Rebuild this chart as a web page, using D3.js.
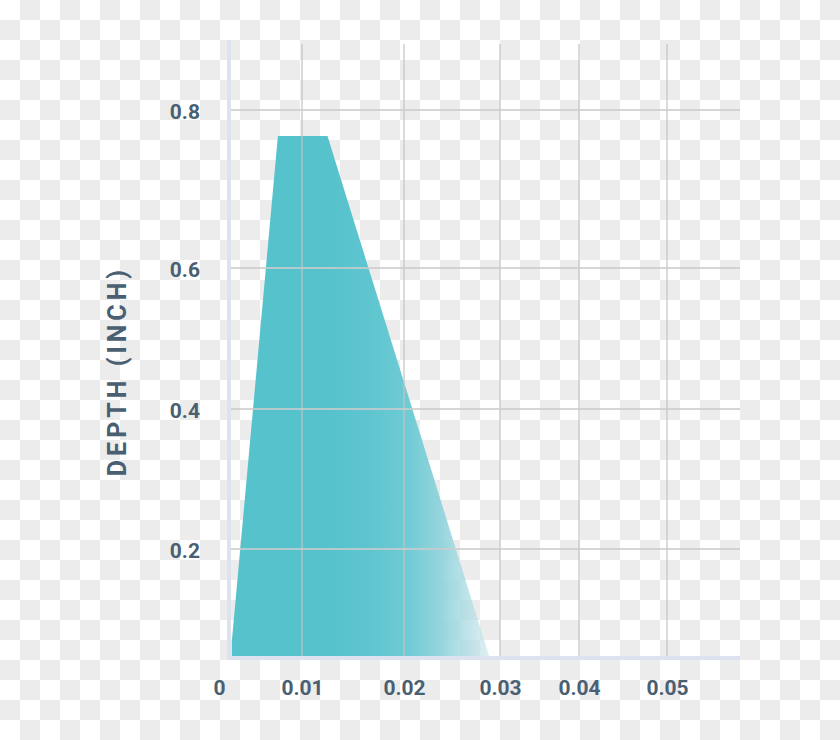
<!DOCTYPE html>
<html>
<head>
<meta charset="utf-8">
<script src="https://cdn.jsdelivr.net/npm/d3@7"></script>
<style>
	html, body {
		margin: 0;
		padding: 0;
		width: 840px;
		height: 740px;
		overflow: hidden;
		/* transparent-png style checker behind the chart */
		background: repeating-conic-gradient(#ececec 0 25%, #ffffff 0 50%) 0 0 / 40px 40px;
	}
	svg text {
		font-family: Roboto, "Noto Sans", sans-serif;
		font-weight: 700;
		fill: #4a5f72;
	}
</style>
</head>
<body>
<svg id="depthChart"></svg>
<script>
// tick values on both axes
const xTicks = [0, 0.01, 0.02, 0.03, 0.04, 0.05];
const yTicks = [0.2, 0.4, 0.6, 0.8];

// the cut profile: width (x) against depth (inch)
const profileWidth = [0.0004, 0.0004, 0.0067, 0.0125, 0.0289];
const profileDepth = [0, 0.031, 0.767, 0.767, 0];

const yLabel = "DEPTH (INCH)";

function whenDocumentLoaded(action) {
	if (document.readyState === "loading") {
		document.addEventListener("DOMContentLoaded", action);
	} else {
		action();
	}
}

whenDocumentLoaded(() => {
	const width = 840, height = 740;
	const svg = d3.select("#depthChart")
		.attr("width", width)
		.attr("height", height);

	// the original grid is hand spaced, so the scales are piecewise
	const x = d3.scaleLinear()
		.domain(xTicks)
		.range([229, 302, 404, 500, 579, 667]);
	const y = d3.scaleLinear()
		.domain([0].concat(yTicks))
		.range([657, 549, 409, 268, 110]);

	const right = 740, top = 44;

	// gradient fill, solid teal fading out to the right
	const grad = svg.append("defs").append("linearGradient")
		.attr("id", "fade")
		.attr("gradientUnits", "userSpaceOnUse")
		.attr("x1", x(0.0125)).attr("y1", 0)
		.attr("x2", x(0.029)).attr("y2", 0);
	const stops = [
		{ o: 0, c: "#55c2cc", a: 1 },
		{ o: 0.3, c: "#60c6d0", a: 1 },
		{ o: 0.5, c: "#70cbd5", a: 1 },
		{ o: 0.7, c: "#92d3dc", a: 0.95 },
		{ o: 0.88, c: "#b0dde5", a: 0.75 },
		{ o: 1, c: "#cce6ec", a: 0.6 }
	];
	grad.selectAll("stop")
		.data(stops)
		.enter()
		.append("stop")
		.attr("offset", d => d.o)
		.attr("stop-color", d => d.c)
		.attr("stop-opacity", d => d.a);

	// the profile shape
	const pts = profileWidth.map((w, i) => [w, profileDepth[i]]);
	const line = d3.line()
		.x(d => x(d[0]))
		.y(d => y(d[1]));
	svg.append("path")
		.attr("d", line(pts) + "Z")
		.attr("fill", "url(#fade)");

	// grid lines, drawn over the fill
	svg.append("g")
		.selectAll("line")
		.data(xTicks.filter(d => d > 0))
		.enter()
		.append("line")
		.attr("x1", d => x(d)).attr("x2", d => x(d))
		.attr("y1", top).attr("y2", y(0))
		.attr("stroke", "#c4c4c4")
		.attr("stroke-opacity", 0.8)
		.attr("stroke-width", 1.5);
	svg.append("g")
		.selectAll("line")
		.data(yTicks)
		.enter()
		.append("line")
		.attr("x1", x(0)).attr("x2", right)
		.attr("y1", d => y(d)).attr("y2", d => y(d))
		.attr("stroke", "#cccccc")
		.attr("stroke-opacity", 0.8)
		.attr("stroke-width", 2);

	// axis lines
	svg.append("line")
		.attr("x1", x(0)).attr("x2", x(0))
		.attr("y1", 40).attr("y2", y(0) + 3)
		.attr("stroke", "#dce3ef")
		.attr("stroke-width", 4);
	svg.append("line")
		.attr("x1", x(0)).attr("x2", right)
		.attr("y1", y(0) + 1).attr("y2", y(0) + 1)
		.attr("stroke", "#dce3ef")
		.attr("stroke-width", 4);

	// tick labels
	const yAxis = svg.append("g")
		.attr("transform", `translate(${x(0)}, 2)`)
		.call(d3.axisLeft(y).tickValues(yTicks).tickSize(0).tickPadding(29).tickFormat(d3.format(".1f")));
	const xAxis = svg.append("g")
		.attr("transform", `translate(0, ${y(0)})`)
		.call(d3.axisBottom(x).tickValues(xTicks).tickSize(0).tickPadding(23)
			.tickFormat(d => d === 0 ? "0" : d3.format(".2f")(d)));
	[yAxis, xAxis].forEach(g => {
		g.select(".domain").remove();
		g.selectAll("text")
			.style("font-size", "21px")
			.attr("fill", "#4a5f72");
	});
	// the zero sits left of the corner
	xAxis.selectAll("text").filter(d => d === 0).attr("dx", -10);

	// y axis title
	svg.append("text")
		.attr("transform", `translate(126, 371) rotate(-90)`)
		.attr("text-anchor", "middle")
		.style("font-size", "25px")
		.style("letter-spacing", "4px")
		.attr("fill", "#4a6275")
		.text(yLabel);
});
</script>
</body>
</html>
